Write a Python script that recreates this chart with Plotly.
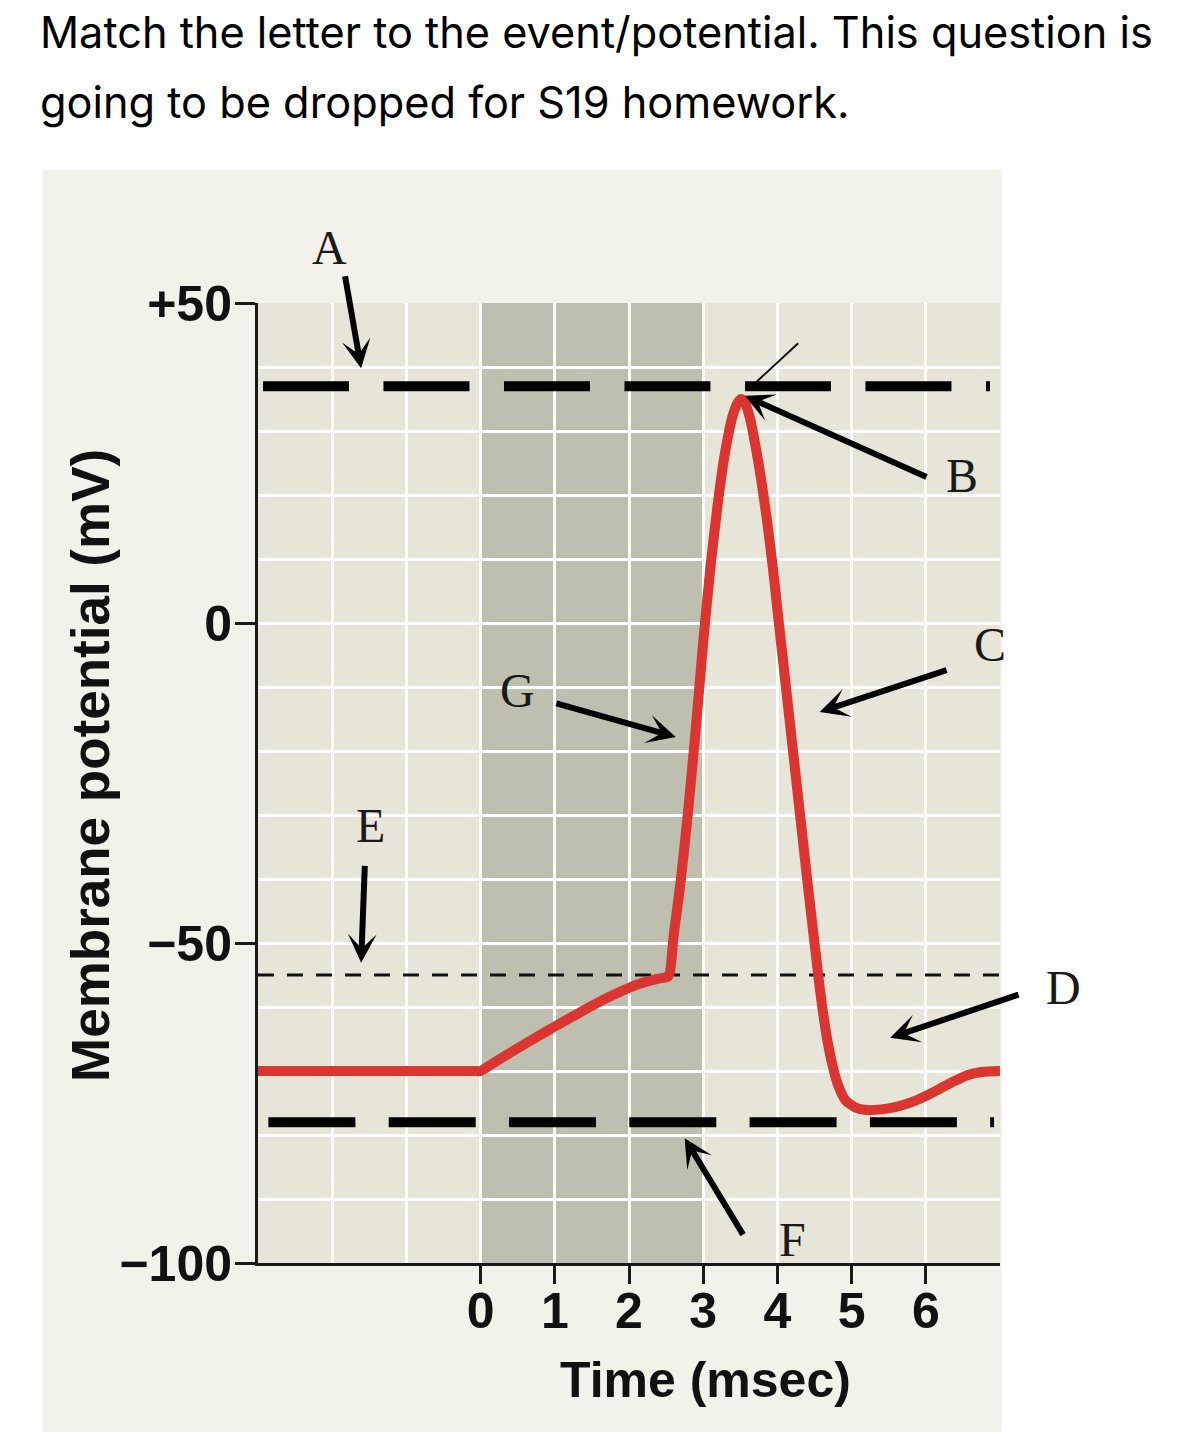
import plotly.graph_objects as go

# ---------------- data ----------------
time_ms = [-3.0, -1.5, -0.08, 0.0, 0.2, 0.4, 0.6, 0.8, 1.0, 1.2, 1.4, 1.6, 1.8, 2.0, 2.2, 2.4, 2.53,
           2.60, 2.70, 2.80, 2.90, 3.00, 3.10, 3.20, 3.30, 3.40, 3.47, 3.51,
           3.56, 3.63, 3.70, 3.78, 3.86, 3.94, 4.02, 4.12, 4.22, 4.32, 4.42, 4.50, 4.56,
           4.61, 4.67, 4.74, 4.82, 4.92, 5.05, 5.2, 5.4, 5.6, 5.8, 6.0, 6.2, 6.4, 6.55,
           6.75, 7.0]
potential_mv = [-70.0, -70.0, -70.0, -70.0, -68.55, -67.15, -65.75, -64.4, -63.05, -61.75, -60.45,
                -59.2, -58.05, -57.0, -56.15, -55.55, -55.2,
                -49.0, -40.0, -29.0, -16.5, -3.0, 9.0, 19.0, 27.0, 32.5, 34.5, 35.0,
                34.5, 32.0, 28.0, 22.5, 16.0, 8.5, 0.0, -10.5, -21.0, -31.5, -42.0, -50.0, -56.0,
                -60.5, -65.0, -69.0, -72.3, -74.6, -75.7, -76.1, -76.0, -75.6, -74.9, -73.9, -72.7,
                -71.5, -70.7, -70.15, -70.0]

x_tick_vals = [0, 1, 2, 3, 4, 5, 6]
x_tick_text = ["0", "1", "2", "3", "4", "5", "6"]
y_tick_vals = [-100, -50, 0, 50]
y_tick_text = ["\u2212100", "\u221250", "0", "+50"]

upper_ref_mv = 37
threshold_mv = -55
lower_ref_mv = -78
stim_start_ms = 0
stim_end_ms = 3

letters = ["A", "B", "C", "D", "E", "F", "G"]
letter_t = [-2.03, 6.49, 6.87, 7.85, -1.49, 4.21, 0.50]
letter_v = [58.6, 23.1, -3.4, -57.0, -31.6, -96.4, -10.5]
head_t = [-1.61, 3.56, 4.57, 5.52, -1.61, 2.75, 2.63]
head_v = [39.8, 35.5, -13.9, -64.8, -53.1, -80.5, -17.8]
tail_t = [-1.83, 6.03, 6.30, 7.27, -1.56, 3.55, 1.00]
tail_v = [54.4, 22.7, -7.3, -58.0, -37.7, -95.8, -12.5]

title_lines = ["Match the letter to the event/potential. This question is",
               "going to be dropped for S19 homework."]

# ---------------- figure ----------------
W, H = 1204, 1434
L, R, T, B = 258, 204, 303, 171
PW, PH = W - L - R, H - T - B
X_RANGE = [-3, 7]
Y_RANGE = [-100, 50]


def px_x(p):
    return (p - L) / PW


def px_y(p):
    return (H - B - p) / PH


def data_to_paper_x(t):
    return (t - X_RANGE[0]) / (X_RANGE[1] - X_RANGE[0])


def data_to_paper_y(v):
    return (v - Y_RANGE[0]) / (Y_RANGE[1] - Y_RANGE[0])


fig = go.Figure()

fig.add_trace(go.Scatter(x=[-2.933, 6.865], y=[upper_ref_mv, upper_ref_mv], mode="lines",
                         line=dict(color="black", width=10, dash="86px,34.5px"),
                         hoverinfo="skip", showlegend=False))
fig.add_trace(go.Scatter(x=[-2.86, 6.92], y=[lower_ref_mv, lower_ref_mv], mode="lines",
                         line=dict(color="black", width=10, dash="87px,33.3px"),
                         hoverinfo="skip", showlegend=False))
fig.add_trace(go.Scatter(x=[-3, 7], y=[threshold_mv, threshold_mv], mode="lines",
                         line=dict(color="#111111", width=3, dash="16px,13px"),
                         hoverinfo="skip", showlegend=False))
fig.add_trace(go.Scatter(x=time_ms, y=potential_mv, mode="lines",
                         line=dict(color="#da3530", width=10, shape="spline", smoothing=0.6),
                         hoverinfo="skip", showlegend=False))

shapes = [
    dict(type="rect", xref="paper", yref="paper", x0=px_x(43), x1=px_x(1002),
         y0=px_y(1432), y1=px_y(170), fillcolor="#f2f1ea", line=dict(width=0), layer="below"),
    dict(type="rect", xref="paper", yref="paper", x0=0, x1=1, y0=0, y1=1,
         fillcolor="#e7e5d8", line=dict(width=0), layer="below"),
    dict(type="rect", xref="x", yref="paper", x0=stim_start_ms, x1=stim_end_ms, y0=0, y1=1,
         fillcolor="#bebfae", line=dict(width=0), layer="below"),
    dict(type="line", xref="x", yref="y", x0=3.72, y0=37.7, x1=4.28, y1=43.7,
         line=dict(color="#111111", width=2), layer="above"),
]

annotations = []
for i in range(len(letters)):
    annotations.append(dict(x=head_t[i], y=head_v[i], ax=tail_t[i], ay=tail_v[i],
                            xref="x", yref="y", axref="x", ayref="y", text="",
                            showarrow=True, arrowhead=3, arrowsize=0.8, arrowwidth=6,
                            arrowcolor="black", standoff=0, startstandoff=0))
    annotations.append(dict(x=data_to_paper_x(letter_t[i]), y=data_to_paper_y(letter_v[i]),
                            xref="paper", yref="paper", text=letters[i],
                            showarrow=False, xanchor="center", yanchor="middle",
                            font=dict(family="Liberation Serif, Times New Roman, serif",
                                      size=48, color="#1a1a1a")))

annotations.append(dict(x=px_x(38), y=px_y(32), xref="paper", yref="paper", text=title_lines[0],
                        showarrow=False, xanchor="left", yanchor="middle",
                        font=dict(family="Inter, Noto Sans, sans-serif", size=43.3, color="black")))
annotations.append(dict(x=px_x(38), y=px_y(102), xref="paper", yref="paper", text=title_lines[1],
                        showarrow=False, xanchor="left", yanchor="middle",
                        font=dict(family="Inter, Noto Sans, sans-serif", size=43.3, color="black")))
annotations.append(dict(x=px_x(90), y=px_y(766), xref="paper", yref="paper",
                        text="Membrane potential (mV)", textangle=-90, showarrow=False,
                        xanchor="center", yanchor="middle",
                        font=dict(family="Liberation Sans, Arial, sans-serif", size=53,
                                  color="#111111", weight="bold")))
annotations.append(dict(x=px_x(705), y=px_y(1380), xref="paper", yref="paper",
                        text="Time (msec)", showarrow=False, xanchor="center", yanchor="middle",
                        font=dict(family="Liberation Sans, Arial, sans-serif", size=50,
                                  color="#111111", weight="bold")))

axis_font = dict(family="Liberation Sans, Arial, sans-serif", size=50, color="#111111", weight="bold")

fig.update_layout(
    width=W, height=H,
    margin=dict(l=L, r=R, t=T, b=B, pad=0),
    paper_bgcolor="white",
    plot_bgcolor="#e7e5d8",
    shapes=shapes,
    annotations=annotations,
    showlegend=False,
    xaxis=dict(range=X_RANGE, tickmode="array", tickvals=x_tick_vals, ticktext=x_tick_text,
               ticks="outside", ticklen=18, tickwidth=3, tickcolor="#1a1a1a",
               ticklabelstandoff=-16,
               showline=True, linecolor="#1a1a1a", linewidth=3,
               showgrid=True, gridcolor="white", gridwidth=3, zeroline=False,
               minor=dict(tickmode="array", tickvals=list(range(-3, 8)), showgrid=True,
                          gridcolor="white", gridwidth=3, ticks=""),
               tickfont=axis_font, fixedrange=True),
    yaxis=dict(range=Y_RANGE, tickmode="array", tickvals=y_tick_vals, ticktext=y_tick_text,
               ticks="outside", ticklen=20, tickwidth=3, tickcolor="#1a1a1a",
               ticklabelstandoff=-7,
               showline=True, linecolor="#1a1a1a", linewidth=3,
               showgrid=True, gridcolor="white", gridwidth=3, zeroline=False,
               minor=dict(tickmode="array", tickvals=list(range(-100, 51, 10)), showgrid=True,
                          gridcolor="white", gridwidth=3, ticks=""),
               tickfont=axis_font, fixedrange=True),
)

fig.write_html("out.html")
